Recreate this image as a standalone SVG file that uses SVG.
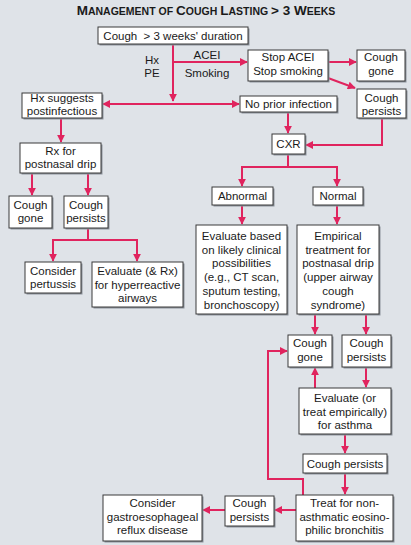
<svg xmlns="http://www.w3.org/2000/svg" width="411" height="545" viewBox="0 0 411 545">
<defs>
<style>
.bg{fill:#dfe3e8}
.box rect.b{fill:#ffffff;stroke:#3a3a3a;stroke-width:1}
.box rect.s{fill:#8d939b}
text{font-family:"Liberation Sans",Arial,sans-serif;font-size:11.5px;fill:#1a1a1a;text-anchor:middle}
.title{font-weight:bold;font-size:13.5px}
.sc{font-size:10.5px}
.c{fill:none;stroke:#e0245e;stroke-width:2}
.a{marker-end:url(#ah)}
</style>
<marker id="ah" viewBox="0 0 10 10" refX="9" refY="5" markerWidth="4" markerHeight="4" orient="auto" markerUnits="strokeWidth">
<path d="M0,0 L10,5 L0,10 z" fill="#e0245e"/>
</marker>
</defs>
<rect class="bg" x="0" y="0" width="411" height="545"/>
<text class="title" x="206" y="15">M<tspan class="sc">ANAGEMENT OF </tspan>C<tspan class="sc">OUGH </tspan>L<tspan class="sc">ASTING </tspan>&gt; 3 W<tspan class="sc">EEKS</tspan></text>

<g id="connectors">
<path class="c a" d="M173,44 V101"/>
<path class="c a" d="M173,62 H247"/>
<path class="c a" d="M173,104 H103"/>
<path class="c a" d="M173,104 H239"/>
<path class="c a" d="M328,62 H356"/>
<path class="c a" d="M328,78 L355,88"/>
<path class="c a" d="M288,112 V133"/>
<path class="c a" d="M382,118 V145 H306"/>
<path class="c" d="M288,154 V167 M242,167 H337"/>
<path class="c a" d="M242,166 V186"/>
<path class="c a" d="M337,166 V186"/>
<path class="c a" d="M242,205 V224"/>
<path class="c a" d="M337,205 V224"/>
<path class="c a" d="M61,118 V142"/>
<path class="c a" d="M32,173 V195"/>
<path class="c a" d="M88,173 V195"/>
<path class="c" d="M88,228 V240 M53,240 H137"/>
<path class="c a" d="M53,239 V261"/>
<path class="c a" d="M137,239 V261"/>
<path class="c a" d="M315,314 V334"/>
<path class="c a" d="M366,314 V334"/>
<path class="c a" d="M366,367 V387"/>
<path class="c a" d="M315,388 V368"/>
<path class="c a" d="M345,434 V453"/>
<path class="c a" d="M345,473 V494"/>
<path class="c a" d="M303,495 V479 H268 V351 H287"/>
<path class="c a" d="M296,510 H275"/>
<path class="c a" d="M225,510 H203"/>
</g>

<g id="n_cough" class="box"><rect class="s" x="99.5" y="28.5" width="150" height="17"/><rect class="b" x="98" y="27" width="150" height="17"/><text x="173" y="40" xml:space="preserve">Cough  &gt; 3 weeks' duration</text></g>
<g id="lbl_hx"><text x="152" y="64">Hx</text><text x="152" y="77">PE</text></g>
<g id="lbl_acei"><text x="207" y="59">ACEI</text><text x="207" y="77">Smoking</text></g>
<g id="n_stop" class="box"><rect class="s" x="249.5" y="51.5" width="80" height="31"/><rect class="b" x="248" y="50" width="80" height="31"/><text x="288" y="61">Stop ACEI</text><text x="288" y="75">Stop smoking</text></g>
<g id="n_gone1" class="box"><rect class="s" x="358.5" y="51.5" width="48" height="31"/><rect class="b" x="357" y="50" width="48" height="31"/><text x="381" y="61">Cough</text><text x="381" y="75">gone</text></g>
<g id="n_pers1" class="box"><rect class="s" x="358.5" y="90.5" width="49" height="29"/><rect class="b" x="357" y="89" width="49" height="29"/><text x="381.5" y="102">Cough</text><text x="381.5" y="115">persists</text></g>
<g id="n_hx" class="box"><rect class="s" x="23.5" y="94.5" width="80" height="25"/><rect class="b" x="22" y="93" width="80" height="25"/><text x="62" y="102">Hx suggests</text><text x="62" y="115">postinfectious</text></g>
<g id="n_noprior" class="box"><rect class="s" x="241.5" y="97.5" width="97" height="16"/><rect class="b" x="240" y="96" width="97" height="16"/><text x="288.5" y="108">No prior infection</text></g>
<g id="n_cxr" class="box"><rect class="s" x="273.5" y="135.5" width="33" height="20"/><rect class="b" x="272" y="134" width="33" height="20"/><text x="288.5" y="148">CXR</text></g>
<g id="n_rx" class="box"><rect class="s" x="21.5" y="144.5" width="81" height="30"/><rect class="b" x="20" y="143" width="81" height="30"/><text x="60.5" y="155">Rx for</text><text x="60.5" y="168">postnasal drip</text></g>
<g id="n_abn" class="box"><rect class="s" x="213.5" y="188.5" width="61" height="18"/><rect class="b" x="212" y="187" width="61" height="18"/><text x="242.5" y="200">Abnormal</text></g>
<g id="n_norm" class="box"><rect class="s" x="314.5" y="188.5" width="50" height="18"/><rect class="b" x="313" y="187" width="50" height="18"/><text x="338" y="200">Normal</text></g>
<g id="n_gone2" class="box"><rect class="s" x="10.5" y="197.5" width="43" height="32"/><rect class="b" x="9" y="196" width="43" height="32"/><text x="30.5" y="209">Cough</text><text x="30.5" y="222">gone</text></g>
<g id="n_pers2" class="box"><rect class="s" x="65.5" y="197.5" width="44" height="32"/><rect class="b" x="64" y="196" width="44" height="32"/><text x="86" y="209">Cough</text><text x="86" y="222">persists</text></g>
<g id="n_pert" class="box"><rect class="s" x="26.5" y="263.5" width="56" height="31"/><rect class="b" x="25" y="262" width="56" height="31"/><text x="53" y="275">Consider</text><text x="53" y="288">pertussis</text></g>
<g id="n_hyper" class="box"><rect class="s" x="93.5" y="263.5" width="91" height="45"/><rect class="b" x="92" y="262" width="91" height="45"/><text x="137.5" y="275">Evaluate (&amp; Rx)</text><text x="137.5" y="288.5">for hyperreactive</text><text x="137.5" y="302">airways</text></g>
<g id="n_evalbased" class="box"><rect class="s" x="197.5" y="226.5" width="91" height="89"/><rect class="b" x="196" y="225" width="91" height="89"/><text x="241.5" y="240">Evaluate based</text><text x="241.5" y="253.7">on likely clinical</text><text x="241.5" y="267.4">possibilities</text><text x="241.5" y="281.1">(e.g., CT scan,</text><text x="241.5" y="294.8">sputum testing,</text><text x="241.5" y="308.5">bronchoscopy)</text></g>
<g id="n_empir" class="box"><rect class="s" x="298.5" y="226.5" width="82" height="89"/><rect class="b" x="297" y="225" width="82" height="89"/><text x="338" y="240">Empirical</text><text x="338" y="253.7">treatment for</text><text x="338" y="267.4">postnasal drip</text><text x="338" y="281.1">(upper airway</text><text x="338" y="294.8">cough</text><text x="338" y="308.5">syndrome)</text></g>
<g id="n_gone3" class="box"><rect class="s" x="289.5" y="336.5" width="44" height="32"/><rect class="b" x="288" y="335" width="44" height="32"/><text x="310" y="347">Cough</text><text x="310" y="361">gone</text></g>
<g id="n_pers3" class="box"><rect class="s" x="343.5" y="336.5" width="49" height="32"/><rect class="b" x="342" y="335" width="49" height="32"/><text x="366.5" y="347">Cough</text><text x="366.5" y="361">persists</text></g>
<g id="n_asthma" class="box"><rect class="s" x="300.5" y="389.5" width="92" height="46"/><rect class="b" x="299" y="388" width="92" height="46"/><text x="345" y="402">Evaluate (or</text><text x="345" y="415.5">treat empirically)</text><text x="345" y="429">for asthma</text></g>
<g id="n_pers4" class="box"><rect class="s" x="304.5" y="455.5" width="84" height="19"/><rect class="b" x="303" y="454" width="84" height="19"/><text x="345" y="468">Cough persists</text></g>
<g id="n_treat" class="box"><rect class="s" x="297.5" y="496.5" width="97" height="46"/><rect class="b" x="296" y="495" width="97" height="46"/><text x="344.5" y="507">Treat for non-</text><text x="344.5" y="520.5">asthmatic eosino-</text><text x="344.5" y="534">philic bronchitis</text></g>
<g id="n_pers5" class="box"><rect class="s" x="226.5" y="497.5" width="49" height="30"/><rect class="b" x="225" y="496" width="49" height="30"/><text x="249.5" y="507">Cough</text><text x="249.5" y="521">persists</text></g>
<g id="n_gerd" class="box"><rect class="s" x="104.5" y="496.5" width="99" height="46"/><rect class="b" x="103" y="495" width="99" height="46"/><text x="152.5" y="507">Consider</text><text x="152.5" y="520.5">gastroesophageal</text><text x="152.5" y="534">reflux disease</text></g>
</svg>
